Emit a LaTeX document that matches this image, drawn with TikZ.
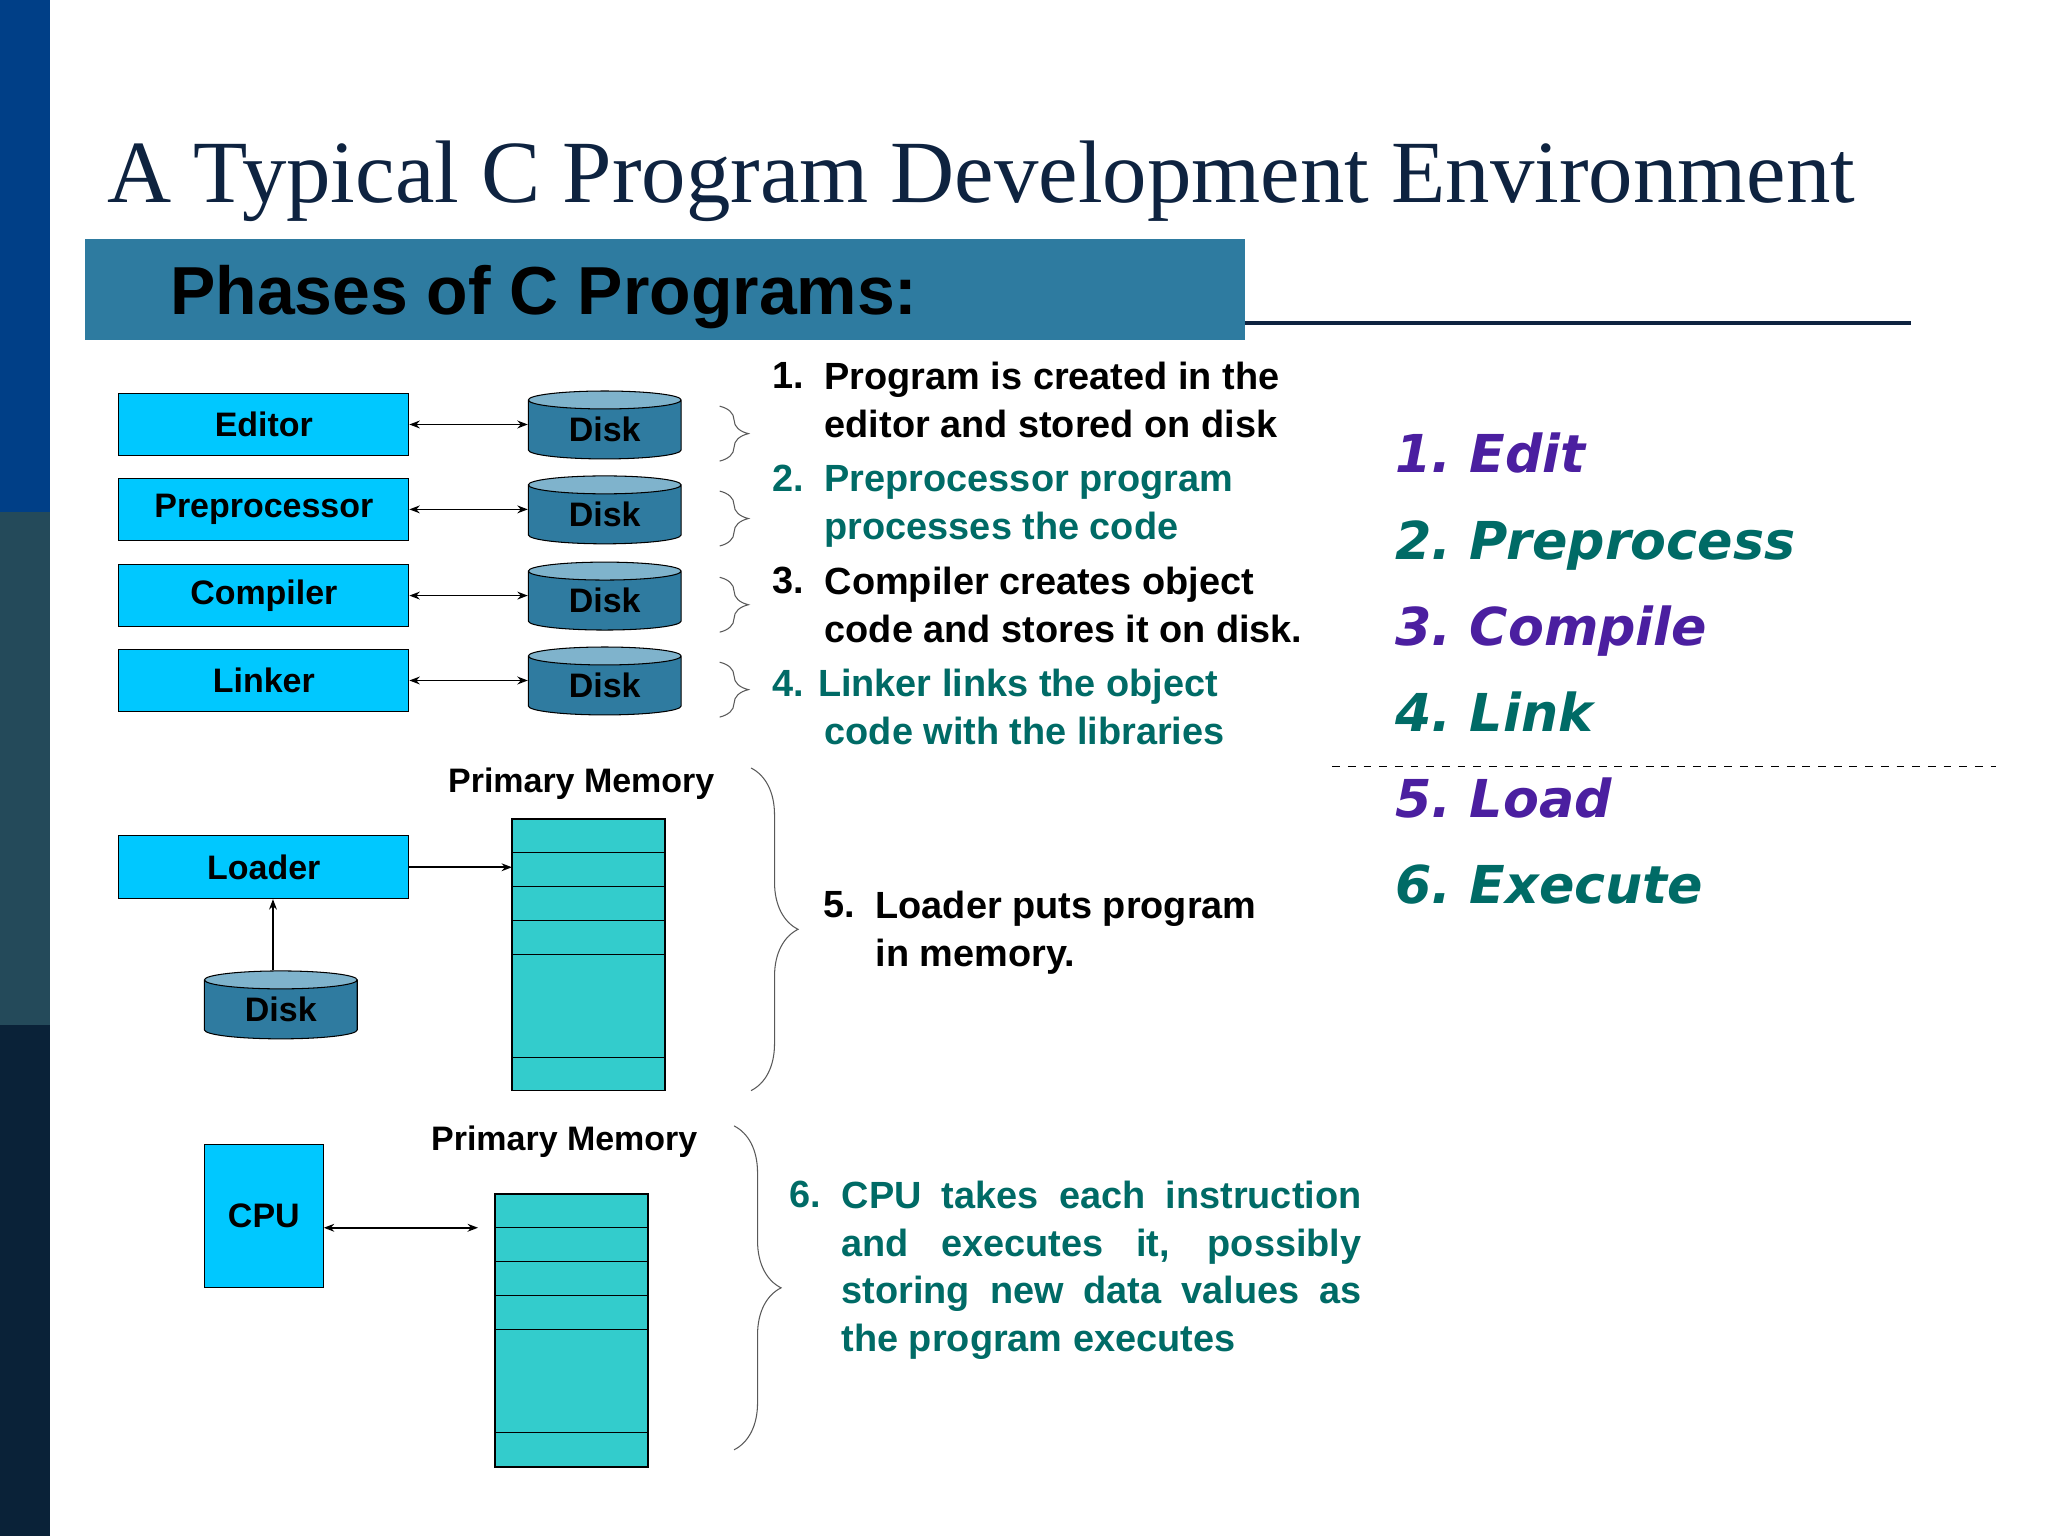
\documentclass[tikz,border=0pt]{standalone}
\usepackage{fontspec}
\setmainfont{Liberation Sans}
\newfontfamily\titlefont{Liberation Serif}
\newfontfamily\vfont{DejaVu Sans}
\usetikzlibrary{shapes.geometric,decorations.pathreplacing,arrows.meta}
\definecolor{cyanbox}{HTML}{00C8FF}
\definecolor{diskc}{HTML}{2F7BA0}
\definecolor{disktop}{HTML}{7FB3CC}
\definecolor{memc}{HTML}{33CCCC}
\definecolor{banner}{HTML}{2E7BA0}
\definecolor{tealt}{HTML}{006B66}
\definecolor{purp}{HTML}{4B1FA0}
\definecolor{navy}{HTML}{0E2340}
\definecolor{bar1}{HTML}{003F87}
\definecolor{bar2}{HTML}{244A5A}
\definecolor{bar3}{HTML}{0A2238}
\tikzset{
 phase/.style={draw=black,fill=cyanbox,minimum width=111pt,minimum height=24pt,font=\bfseries\fontsize{13}{15}\selectfont,inner sep=0pt},
 disk/.style={cylinder,shape border rotate=90,aspect=0.25,draw=black,cylinder uses custom fill,cylinder body fill=diskc,cylinder end fill=disktop,minimum width=58.5pt,minimum height=26pt,inner sep=0pt,font=\bfseries\fontsize{13}{15}\selectfont},
 conn/.style={-{Stealth[length=4pt,width=3pt]},line width=0.6pt},
 conn2/.style={{Stealth[length=4pt,width=3pt]}-{Stealth[length=4pt,width=3pt]},line width=0.6pt},
 brc/.style={decorate,decoration={brace,amplitude=11pt},draw=gray!70!black,line width=0.4pt},
 bigbrc/.style={decorate,decoration={brace,amplitude=18pt},draw=gray!70!black,line width=0.4pt},
 body/.style={anchor=north west,inner sep=0pt,align=left,font=\bfseries\fontsize{14.5}{18.2}\selectfont},
 big/.style={anchor=base west,inner sep=0pt,font=\vfont\bfseries\itshape\fontsize{20}{24}\selectfont},
 mem/.style={draw=black,fill=memc,line width=0.6pt},
 lbl/.style={font=\bfseries\fontsize{13}{15}\selectfont,inner sep=0pt}
}
\begin{document}
\begin{tikzpicture}[x=0.5pt,y=-0.5pt]
\useasboundingbox (0,0) rectangle (1568,1176);
\fill[white] (0,0) rectangle (1568,1176);
\fill[bar1] (0,0) rectangle (38,392);
\fill[bar2] (0,392) rectangle (38,785);
\fill[bar3] (0,785) rectangle (38,1176);
\node[anchor=base west,inner sep=0pt,font=\titlefont\fontsize{34}{40}\selectfont,text=navy] (title) at (82,155) {A Typical C Program Development Environment};
\fill[banner] (65,183) rectangle (953,260);
\node[anchor=base west,inner sep=0pt,font=\bfseries\fontsize{26}{30}\selectfont] (ph) at (130,241) {Phases of C Programs:};
\draw[navy,line width=1.5pt] (953,247) -- (1463,247);
% phases
\foreach \n/\t/\y in {ed/Editor/325,pp/Preprocessor/390,co/Compiler/456,li/Linker/521}{
 \node[phase] (\n) at (202,\y) {\t};
 \node[disk] (d\n) at (463,\y+4) {Disk};
 \draw[conn2] (\n.east) -- (d\n.west |- \n.east);
 \draw[brc] (551,\y-14) -- (551,\y+28);
}
\node[body] (n1) at (591,277) {1.};
\node[body] (t1) at (631,277) {Program is created in the\\editor and stored on disk};
\node[body,text=tealt] (n2) at (591,356) {2.};
\node[body,text=tealt] (t2) at (631,356) {Preprocessor program\\processes the code};
\node[body] (n3) at (591,434) {3.};
\node[body] (t3) at (631,434) {Compiler creates object\\code and stores it on disk.};
\node[body,text=tealt] (t4) at (591,512) {4. Linker links the object\\\hspace*{20pt}code with the libraries};
% loader
\node[lbl] (pm1) at (445,600) {Primary Memory};
\draw[mem] (392,627) rectangle (509,835);
\foreach \y in {653,679,705,731,810} \draw (392,\y) -- (509,\y);
\coordinate (m1) at (392,664);
\node[phase] (lo) at (202,664) {Loader};
\draw[conn] (lo.east) -- (m1);
\node[disk] (dl) at (215,773) {Disk};
\draw[conn] (dl.north -| 209,0) -- (lo.south -| 209,0);
\draw[bigbrc] (575,588) -- (575,835);
\node[body] (n5) at (630,682) {5.};
\node[body] (t5) at (670,682) {Loader puts program\\in memory.};
% cpu
\node[draw=black,fill=cyanbox,minimum width=45.5pt,minimum height=55pt,inner sep=0pt,font=\bfseries\fontsize{13}{15}\selectfont] (cpu) at (202,931) {CPU};
\node[lbl] (pm2) at (432,874) {Primary Memory};
\draw[mem] (379,914) rectangle (496,1123);
\foreach \y in {940,966,992,1018,1097} \draw (379,\y) -- (496,\y);
\coordinate (m2) at (366,940);
\draw[conn2] (cpu.east |- m2) -- (m2);
\draw[bigbrc] (562,862) -- (562,1110);
\node[body,text=tealt] (n6) at (604,904) {6.};
\node[body,text=tealt] (t6) at (644,904) {\makebox[199pt][s]{CPU takes each instruction}\\\makebox[199pt][s]{and executes it, possibly}\\\makebox[199pt][s]{storing new data values as}\\the program executes};
% right list
\node[big,text=purp] (s1) at (1068,362) {1.\ Edit};
\node[big,text=tealt] (s2) at (1068,428) {2.\ Preprocess};
\node[big,text=purp] (s3) at (1068,494) {3.\ Compile};
\node[big,text=tealt] (s4) at (1068,560) {4.\ Link};
\draw[dashed,line width=0.6pt] (1020,587) -- (1528,587);
\node[big,text=purp] (s5) at (1068,626) {5.\ Load};
\node[big,text=tealt] (s6) at (1068,692) {6.\ Execute};
\end{tikzpicture}
\end{document}
